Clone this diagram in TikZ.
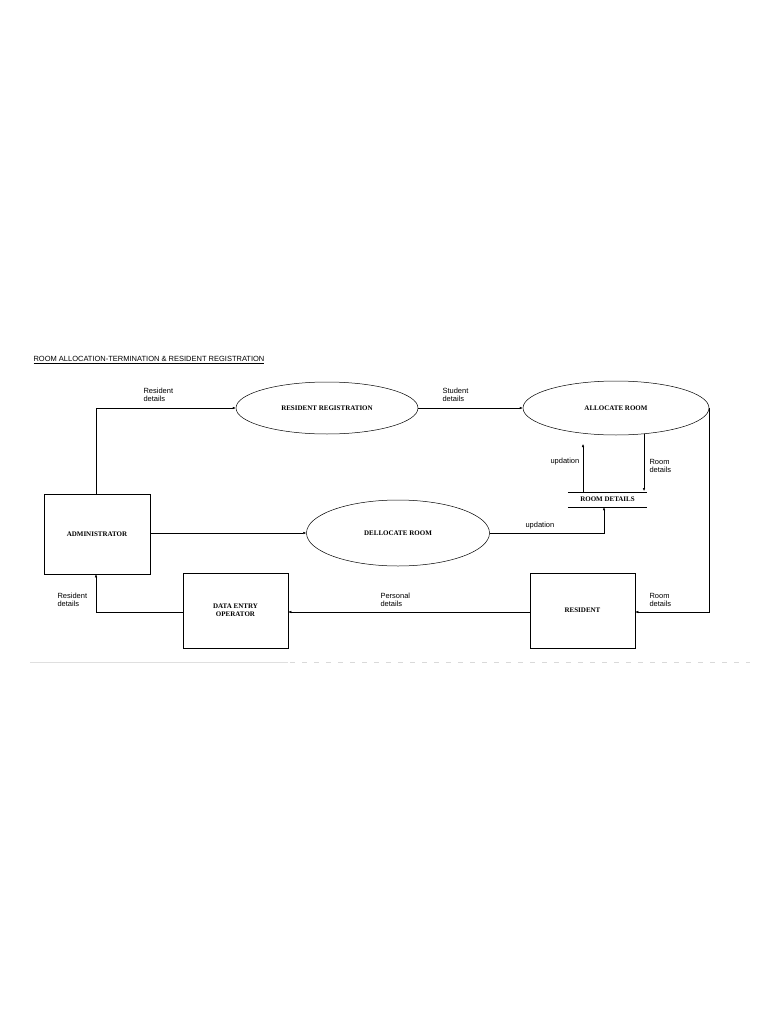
\documentclass[tikz,border=0pt]{standalone}
\usepackage{fontspec}
\setmainfont{Liberation Serif}
\newfontfamily\lab{Liberation Sans}
\usetikzlibrary{shapes.geometric,arrows.meta}
\begin{document}
\begin{tikzpicture}[x=1pt,y=-1pt,
  proc/.style={draw,ellipse,line width=0.5pt,font=\bfseries\fontsize{7}{8}\selectfont},
  ent/.style={draw,rectangle,line width=0.5pt,font=\bfseries\fontsize{7}{8}\selectfont,align=center},
  flow/.style={draw,line width=0.4pt,-{Latex[length=3pt,width=2.5pt]}},
  lbl/.style={font=\lab\fontsize{7.5}{8.5}\selectfont,align=left,anchor=west}]
\useasboundingbox (0,0) rectangle (768,1024);
\node[lbl,anchor=west] (title) at (30,360) {\underline{ROOM ALLOCATION-TERMINATION \& RESIDENT REGISTRATION}};
\node[proc,minimum width=182pt,minimum height=52pt] (rr) at (327,408) {RESIDENT REGISTRATION};
\node[proc,minimum width=186pt,minimum height=54pt] (ar) at (616,408) {ALLOCATE ROOM};
\node[proc,minimum width=183pt,minimum height=66pt] (dr) at (398,533) {DELLOCATE ROOM};
\node[ent,minimum width=106pt,minimum height=80pt] (adm) at (97,534) {ADMINISTRATOR};
\node[ent,minimum width=105pt,minimum height=75pt] (deo) at (235.5,610.5) {DATA ENTRY\\OPERATOR};
\node[ent,minimum width=105pt,minimum height=75pt] (res) at (582.5,610.5) {RESIDENT};
\node[font=\bfseries\fontsize{7}{8}\selectfont,minimum width=79pt,minimum height=15pt] (rd) at (607.5,499.5) {ROOM DETAILS};
\draw[line width=0.5pt] (rd.north west) -- (rd.north east) (rd.south west) -- (rd.south east);
\coordinate (c1) at (96,408);
\draw[flow] (adm.north -| c1) -- (c1) -- (rr.west);
\node[lbl] (l1) at (140,395) {Resident\\details};
\draw[flow] (rr.east) -- (ar.west);
\node[lbl] (l2) at (439,395) {Student\\details};
\draw[flow] (583,492) -- (583,444);
\node[lbl] (l3) at (547,462) {updation};
\draw[flow] (644,434) -- (644,491);
\node[lbl] (l4) at (646,466) {Room\\details};
\coordinate (c2) at (604,533);
\draw[flow] (dr.east) -- (c2) -- (rd.south -| c2);
\node[lbl] (l5) at (522,526) {updation};
\draw[flow] (adm.east |- dr.west) -- (dr.west);
\coordinate (c3) at (709,612);
\draw[flow] (ar.east) -- (ar.east -| c3) -- (c3) -- (res.east |- c3);
\node[lbl] (l6) at (646,600) {Room\\details};
\draw[flow] (res.west |- c3) -- (deo.east |- c3);
\node[lbl] (l7) at (377,600) {Personal\\details};
\coordinate (c4) at (96,612);
\draw[flow] (deo.west |- c4) -- (c4) -- (adm.south -| c4);
\node[lbl] (l8) at (54,600) {Resident\\details};
\draw[gray!25,line width=0.6pt] (30,662) -- (288,662);
\draw[gray!30,line width=0.6pt,dash pattern=on 5pt off 7pt] (290,662) -- (750,662);
\end{tikzpicture}
\end{document}
